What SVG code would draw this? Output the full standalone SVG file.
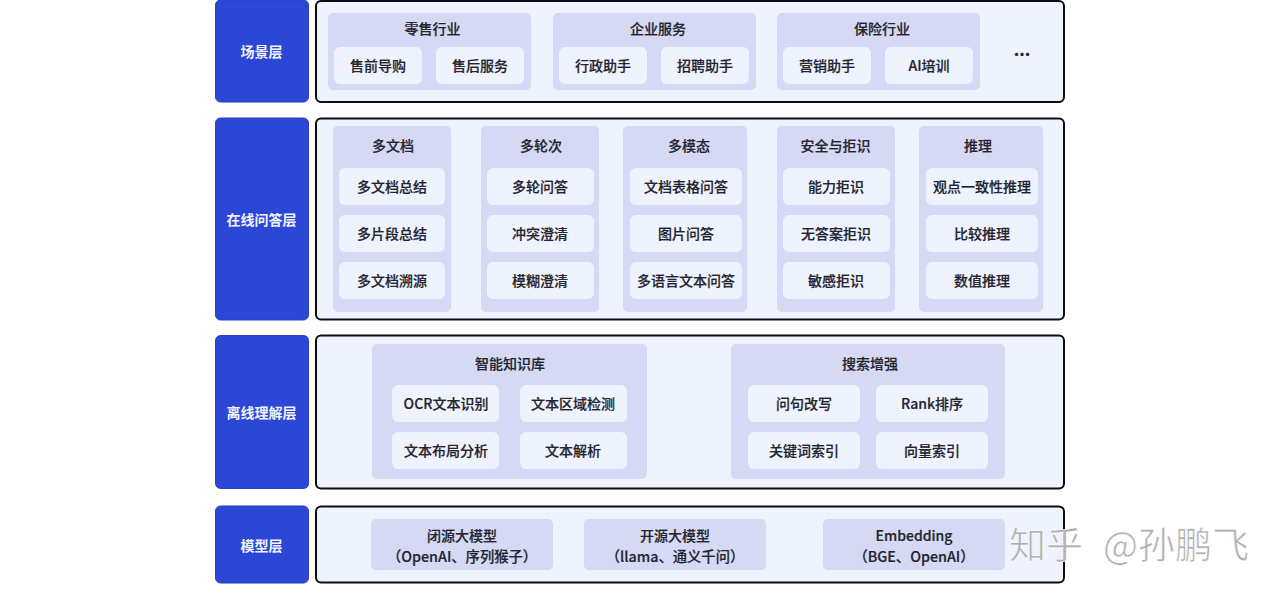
<svg xmlns="http://www.w3.org/2000/svg" width="1280" height="596" viewBox="0 0 1280 596">
<style>
text{font-family:"Noto Sans CJK SC","Noto Sans",sans-serif;text-anchor:middle;dominant-baseline:central;font-size:14px;font-weight:500;fill:#23242f;stroke:#23242f;stroke-width:.2}
.l rect{fill:#2c47d5;stroke:#2a40c0;stroke-width:1}
.l text{fill:#f2f4fd;stroke:none;font-weight:700}
.p{fill:#eff3fd;stroke:#0c0c12;stroke-width:2}
.g{fill:#d5d9f3}
.c{fill:#eff3fd}
.w{font-size:37px;font-weight:400;fill:#b0b0b0;stroke:#fff;stroke-width:0.6}
</style>
<rect width="1280" height="596" fill="#fff"/>
<g id="layer-scene">
<g class="l"><rect x="215.500" y="0" width="93" height="102" rx="5"/><text x="261.500" y="51">场景层</text></g>
<rect class="p" x="316" y="1" width="748" height="101" rx="5"/>
</g>
<g id="layer-online">
<g class="l"><rect x="215.500" y="118" width="93" height="202" rx="5"/><text x="261.500" y="219">在线问答层</text></g>
<rect class="p" x="316" y="118.500" width="748" height="201" rx="5"/>
</g>
<g id="layer-offline">
<g class="l"><rect x="215.500" y="335.500" width="93" height="153" rx="5"/><text x="261.500" y="412">离线理解层</text></g>
<rect class="p" x="316" y="335.500" width="748" height="153" rx="5"/>
</g>
<g id="layer-model">
<g class="l"><rect x="215.500" y="506" width="93" height="77" rx="5"/><text x="261.500" y="545">模型层</text></g>
<rect class="p" x="316" y="506.500" width="748" height="76" rx="5"/>
</g>
<g id="retail"><rect class="g" x="328" y="13" width="203" height="77" rx="5"/><text x="432.500" y="28">零售行业</text>
<rect class="c" x="334" y="47" width="88" height="37" rx="6"/><text x="378" y="65">售前导购</text>
<rect class="c" x="436" y="47" width="88" height="37" rx="6"/><text x="480" y="65">售后服务</text></g>
<g id="enterprise"><rect class="g" x="553" y="13" width="203" height="77" rx="5"/><text x="658" y="28">企业服务</text>
<rect class="c" x="559" y="47" width="88" height="37" rx="6"/><text x="603" y="65">行政助手</text>
<rect class="c" x="661" y="47" width="88" height="37" rx="6"/><text x="705" y="65">招聘助手</text></g>
<g id="insurance"><rect class="g" x="777" y="13" width="203" height="77" rx="5"/><text x="882" y="28">保险行业</text>
<rect class="c" x="783" y="47" width="88" height="37" rx="6"/><text x="827" y="65">营销助手</text>
<rect class="c" x="885" y="47" width="88" height="37" rx="6"/><text x="929" y="65">AI培训</text></g>
<text id="more" x="1022" y="48" style="font-weight:700;font-size:17px">...</text>
<g id="multidoc"><rect class="g" x="333" y="126" width="118" height="186" rx="5"/><text x="393" y="145">多文档</text>
<rect class="c" x="339" y="168" width="106" height="37" rx="6"/><text x="392" y="186">多文档总结</text>
<rect class="c" x="339" y="215" width="106" height="37" rx="6"/><text x="392" y="233">多片段总结</text>
<rect class="c" x="339" y="262" width="106" height="37" rx="6"/><text x="392" y="280">多文档溯源</text></g>
<g id="multiturn"><rect class="g" x="481" y="126" width="118" height="186" rx="5"/><text x="541" y="145">多轮次</text>
<rect class="c" x="487" y="168" width="107" height="37" rx="6"/><text x="540" y="186">多轮问答</text>
<rect class="c" x="487" y="215" width="107" height="37" rx="6"/><text x="540" y="233">冲突澄清</text>
<rect class="c" x="487" y="262" width="107" height="37" rx="6"/><text x="540" y="280">模糊澄清</text></g>
<g id="multimodal"><rect class="g" x="623" y="126" width="124" height="186" rx="5"/><text x="689" y="145">多模态</text>
<rect class="c" x="630" y="168" width="112" height="37" rx="6"/><text x="686" y="186">文档表格问答</text>
<rect class="c" x="630" y="215" width="112" height="37" rx="6"/><text x="686" y="233">图片问答</text>
<rect class="c" x="630" y="262" width="112" height="37" rx="6"/><text x="686" y="280">多语言文本问答</text></g>
<g id="safety"><rect class="g" x="777" y="126" width="118" height="186" rx="5"/><text x="835.500" y="145">安全与拒识</text>
<rect class="c" x="783" y="168" width="107" height="37" rx="6"/><text x="836" y="186">能力拒识</text>
<rect class="c" x="783" y="215" width="107" height="37" rx="6"/><text x="836" y="233">无答案拒识</text>
<rect class="c" x="783" y="262" width="107" height="37" rx="6"/><text x="836" y="280">敏感拒识</text></g>
<g id="reasoning"><rect class="g" x="919" y="126" width="124" height="186" rx="5"/><text x="978" y="145">推理</text>
<rect class="c" x="926" y="168" width="112" height="37" rx="6"/><text x="982" y="186">观点一致性推理</text>
<rect class="c" x="926" y="215" width="112" height="37" rx="6"/><text x="982" y="233">比较推理</text>
<rect class="c" x="926" y="262" width="112" height="37" rx="6"/><text x="982" y="280">数值推理</text></g>
<g id="kb"><rect class="g" x="372" y="344" width="275" height="135" rx="5"/><text x="510" y="363">智能知识库</text>
<rect class="c" x="392" y="385" width="107" height="37" rx="6"/><text x="446" y="403">OCR文本识别</text>
<rect class="c" x="520" y="385" width="107" height="37" rx="6"/><text x="573" y="403">文本区域检测</text>
<rect class="c" x="392" y="432" width="107" height="37" rx="6"/><text x="446" y="450">文本布局分析</text>
<rect class="c" x="520" y="432" width="107" height="37" rx="6"/><text x="573" y="450">文本解析</text></g>
<g id="search"><rect class="g" x="731" y="344" width="274" height="135" rx="5"/><text x="870" y="363">搜索增强</text>
<rect class="c" x="748" y="385" width="112" height="37" rx="6"/><text x="804" y="403">问句改写</text>
<rect class="c" x="876" y="385" width="112" height="37" rx="6"/><text x="932" y="403">Rank排序</text>
<rect class="c" x="748" y="432" width="112" height="37" rx="6"/><text x="804" y="450">关键词索引</text>
<rect class="c" x="876" y="432" width="112" height="37" rx="6"/><text x="932" y="450">向量索引</text></g>
<g id="closed"><rect class="g" x="371" y="519" width="182" height="51" rx="5"/><text x="462" y="535">闭源大模型</text><text x="462" y="555" style="font-size:14.300px">（OpenAI、序列猴子）</text></g>
<g id="open"><rect class="g" x="584" y="519" width="182" height="51" rx="5"/><text x="675" y="535">开源大模型</text><text x="675" y="555" style="font-size:14.300px">（llama、通义千问）</text></g>
<g id="embedding"><rect class="g" x="823" y="519" width="182" height="51" rx="5"/><text x="914" y="535">Embedding</text><text x="914" y="555" style="font-size:14.300px">（BGE、OpenAI）</text></g>
<g id="watermark"><text class="w" x="1046" y="543">知乎</text><text class="w" x="1176" y="543">@孙鹏飞</text></g>
<g id="connectors"/>
</svg>
